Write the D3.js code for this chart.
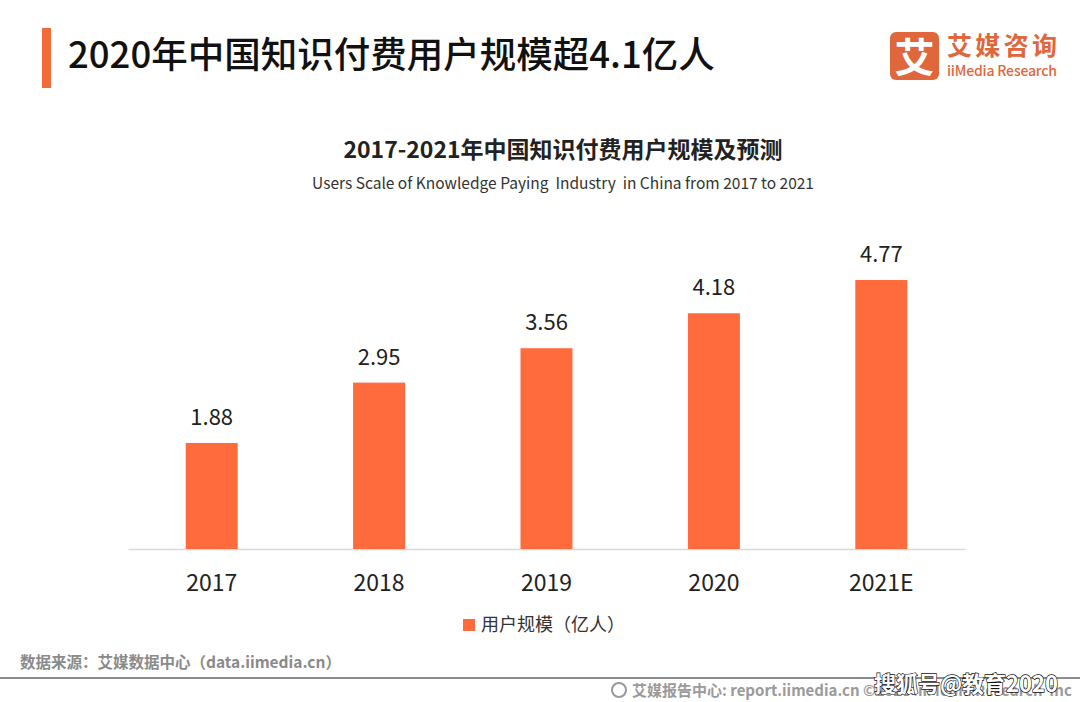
<!DOCTYPE html>
<html><head><meta charset="utf-8">
<script src="https://cdn.jsdelivr.net/npm/d3@7"></script>
<style>
html,body{margin:0;padding:0;background:#fff;}
svg{display:block;}
text{font-family:"Noto Sans CJK SC","Noto Sans",sans-serif;}
</style></head>
<body>
<svg id="chart" width="1080" height="702"></svg>
<script>
const categories = ["2017","2018","2019","2020","2021E"];
const values = [1.88, 2.95, 3.56, 4.18, 4.77];
const valueLabels = ["1.88","2.95","3.56","4.18","4.77"];
const seriesName = "用户规模（亿人）";
const mainTitle = "2020年中国知识付费用户规模超4.1亿人";
const chartTitle = "2017-2021年中国知识付费用户规模及预测";
const chartSubtitle = "Users Scale of Knowledge Paying  Industry  in China from 2017 to 2021";
const sourceText = "数据来源：艾媒数据中心（data.iimedia.cn）";
const footerText = "艾媒报告中心: report.iimedia.cn ©2020  iiMedia Research  Inc";
const watermark = "搜狐号@教育2020";

const orange = "#FF6B3D";
const svg = d3.select("#chart");

// header bar + title
svg.append("rect").attr("x",42).attr("y",28).attr("width",9).attr("height",60).attr("fill","#F26B3A");
svg.append("text").attr("x",68).attr("y",68).attr("font-size",36.5).attr("font-weight",500)
  .attr("fill","#111").text(mainTitle);

// logo
const logo = svg.append("g");
logo.append("rect").attr("x",890).attr("y",32).attr("width",49).attr("height",48).attr("rx",6).attr("fill","#E0663C");
logo.append("text").attr("x",914.5).attr("y",72).attr("text-anchor","middle").attr("font-size",40)
  .attr("font-weight",700).attr("fill","#fff").text("艾");
logo.append("text").attr("x",947).attr("y",55).attr("font-size",25).attr("font-weight",700)
  .attr("fill","#E0663C").attr("textLength",110).text("艾媒咨询");
logo.append("text").attr("x",947).attr("y",76).attr("font-size",14).attr("font-weight",500)
  .attr("fill","#E0663C").attr("textLength",110).text("iiMedia Research");

// chart titles
svg.append("text").attr("x",563).attr("y",158).attr("text-anchor","middle").attr("font-size",23)
  .attr("font-weight",700).attr("fill","#222").text(chartTitle);
svg.append("text").attr("x",563).attr("y",189).attr("text-anchor","middle").attr("font-size",15.5)
  .attr("fill","#333").attr("style","white-space:pre").text(chartSubtitle);

// scales
const x = d3.scaleBand().domain(categories).range([128,965]).padding(0);
const y = d3.scaleLinear().domain([0,5]).range([549, 549-282]);
const barW = 52;

// axis
const xAxis = d3.axisBottom(x).tickSize(0).tickPadding(26);
const gx = svg.append("g").attr("transform","translate(0,549)").call(xAxis);
gx.select(".domain").attr("stroke","#d9d9d9").attr("stroke-width",1.5);
gx.selectAll("text").attr("font-size",23).attr("fill","#222")
  .attr("font-family","'Open Sans','Noto Sans',sans-serif");

// bars
svg.append("g").selectAll("rect").data(values).join("rect")
  .attr("x",(d,i)=>x(categories[i])+x.bandwidth()/2-barW/2)
  .attr("y",d=>y(d))
  .attr("width",barW)
  .attr("height",d=>y(0)-y(d))
  .attr("fill",orange);

// value labels
svg.append("g").selectAll("text").data(values).join("text")
  .attr("x",(d,i)=>x(categories[i])+x.bandwidth()/2)
  .attr("y",d=>y(d)-18)
  .attr("text-anchor","middle").attr("font-size",22).attr("fill","#222")
  .attr("font-family","'Open Sans','Noto Sans',sans-serif")
  .text((d,i)=>valueLabels[i]);

// legend
svg.append("rect").attr("x",463).attr("y",619).attr("width",12).attr("height",12).attr("fill",orange);
svg.append("text").attr("x",481).attr("y",631).attr("font-size",18).attr("fill","#333").text(seriesName);

// footer
svg.append("text").attr("x",20).attr("y",668).attr("font-size",15.5).attr("font-weight",700)
  .attr("fill","#8a8a8a").text(sourceText);
svg.append("line").attr("x1",0).attr("x2",1080).attr("y1",678).attr("y2",678)
  .attr("stroke","#8c8c8c").attr("stroke-width",2);
svg.append("circle").attr("cx",619).attr("cy",690).attr("r",7).attr("fill","none").attr("stroke","#999").attr("stroke-width",2);
svg.append("text").attr("x",632).attr("y",696).attr("font-size",15).attr("font-weight",700)
  .attr("fill","#9a9a9a").attr("style","white-space:pre").text(footerText);
svg.append("text").attr("x",966).attr("y",692).attr("text-anchor","middle").attr("font-size",22)
  .attr("font-weight",700).attr("fill","#fff").attr("stroke","#111").attr("stroke-width",1.3)
  .attr("paint-order","stroke").text(watermark);
</script>
</body></html>
